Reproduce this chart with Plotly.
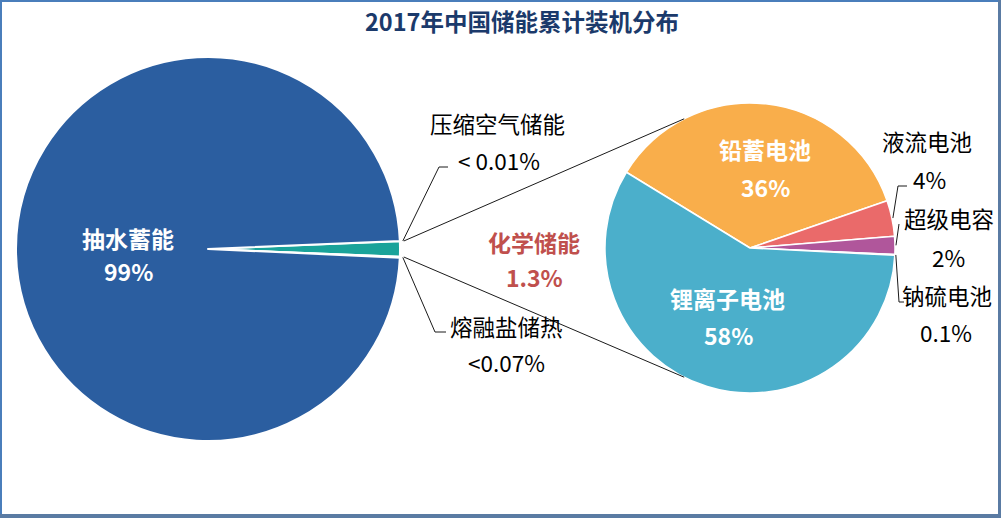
import math
import plotly.graph_objects as go

W, H = 1001, 518

# ---------------- data ----------------
title_text = "2017年中国储能累计装机分布"
main_labels = ["压缩空气储能", "化学储能", "熔融盐储热", "抽水蓄能"]
main_values = [0.01, 1.3, 0.07, 98.62]
main_pct_text = ["< 0.01%", "1.3%", "<0.07%", "99%"]
sub_labels = ["铅蓄电池", "液流电池", "超级电容", "钠硫电池", "锂离子电池"]
sub_values = [36, 4, 2, 0.1, 58]
sub_pct_text = ["36%", "4%", "2%", "0.1%", "58%"]

# ---------------- styles / layout ----------------
FONT = "Noto Sans CJK SC"
main_colors = ["#1AA39A", "#1AA39A", "#1AA39A", "#2B5EA0"]
sub_colors = ["#F9AE4B", "#EA6A6A", "#B0569B", "#8E8E8E", "#4BAFCB"]
LINE_COL = "#1a1a1a"

C1, R1 = (208, 249), 192      # main pie centre / radius (px)
C2, R2 = (750, 248), 145      # sub pie centre / radius (px)
SUB_START = 148.5             # math angle where first sub slice starts
CONNECT_ANGLE = 117           # where connector lines meet the sub pie


def px(x):
    return x / W


def py(y):
    return 1 - y / H


def dom(c, r):
    return dict(x=[px(c[0] - r), px(c[0] + r)], y=[py(c[1] + r), py(c[1] - r)])


def on_circle(c, r, ang):
    a = math.radians(ang)
    return c[0] + r * math.cos(a), c[1] - r * math.sin(a)


# main pie: centre the chemical slice on 3 o'clock
tot1 = sum(main_values)
deg1 = [v / tot1 * 360 for v in main_values]
main_start = deg1[0] + deg1[1] / 2
b1 = [main_start]
for d in deg1:
    b1.append(b1[-1] - d)

tot2 = sum(sub_values)
deg2 = [v / tot2 * 360 for v in sub_values]
b2 = [SUB_START]
for d in deg2:
    b2.append(b2[-1] - d)

fig = go.Figure()
fig.add_trace(go.Pie(
    labels=main_labels, values=main_values, sort=False, direction="clockwise",
    rotation=90 - main_start, textinfo="none", hoverinfo="label+percent",
    marker=dict(colors=main_colors, line=dict(color="white", width=2)),
    domain=dom(C1, R1), showlegend=False,
))
fig.add_trace(go.Pie(
    labels=sub_labels, values=sub_values, sort=False, direction="clockwise",
    rotation=90 - SUB_START, textinfo="none", hoverinfo="label+percent",
    marker=dict(colors=sub_colors, line=dict(color="white", width=1.5)),
    domain=dom(C2, R2), showlegend=False,
))

shapes = []


def seg(p0, p1, color=LINE_COL, width=1):
    shapes.append(dict(type="line", xref="paper", yref="paper",
                       x0=px(p0[0]), y0=py(p0[1]), x1=px(p1[0]), y1=py(p1[1]),
                       line=dict(color=color, width=width)))


def poly(points):
    for a, b in zip(points[:-1], points[1:]):
        seg(a, b)


# connectors between the chemical slice and the sub pie
top_start = on_circle(C1, R1 + 4, b1[1])
bot_start = on_circle(C1, R1 + 4, b1[2])
seg(top_start, on_circle(C2, R2, CONNECT_ANGLE))
seg(bot_start, on_circle(C2, R2, -CONNECT_ANGLE))

# leader lines for tiny slices
mid1 = [(b1[i] + b1[i + 1]) / 2 for i in range(len(main_values))]
mid2 = [(b2[i] + b2[i + 1]) / 2 for i in range(len(sub_values))]
poly([on_circle(C1, R1 + 3, mid1[0]), (439, 167), (448, 167)])
poly([on_circle(C1, R1 + 3, mid1[2]), (435, 332), (446, 332)])
poly([on_circle(C2, R2 + 1, mid2[1]), (898, 186), (907, 186)])
poly([on_circle(C2, R2 + 1, mid2[2]), (899, 224)])
poly([on_circle(C2, R2 + 1, mid2[3]), (899, 302), (904, 302)])

# frame
BORDER = "#4A7EBB"
SHADOW = "#5A7BA3"
seg((0, 1), (W, 1), BORDER, 2)
seg((1, 0), (1, H), BORDER, 2)
seg((999.5, 0), (999.5, H), SHADOW, 3)
seg((0, 516), (W, 516), SHADOW, 4)

annotations = []


def label(text, x, y, color="black", bold=False, size=22.5):
    t = f"<b>{text}</b>" if bold else text
    annotations.append(dict(text=t, x=px(x), y=py(y), xref="paper", yref="paper",
                            xanchor="center", yanchor="middle", showarrow=False,
                            font=dict(family=FONT, size=size, color=color)))


label(title_text, 522, 21, "#1B3A6B", True, 23.5)

BS = 23
# main pie labels
label(main_labels[3], 128, 238, "white", True, BS)
label(main_pct_text[3], 128, 271, "white", True, BS)
label(main_labels[1], 534, 242, "#C0504D", True, BS)
label(main_pct_text[1], 534, 277, "#C0504D", True, BS)
label(main_labels[0], 497, 123)
label(main_pct_text[0], 499, 160)
label(main_labels[2], 506, 326)
label(main_pct_text[2], 506, 362)

# sub pie labels
label(sub_labels[0], 765, 149, "white", True, BS)
label(sub_pct_text[0], 765, 187, "white", True, BS)
label(sub_labels[4], 727, 298, "white", True, BS)
label(sub_pct_text[4], 728, 335, "white", True, BS)
label(sub_labels[1], 927, 141)
label(sub_pct_text[1], 929, 179)
label(sub_labels[2], 949, 218)
label(sub_pct_text[2], 948, 257)
label(sub_labels[3], 947, 295)
label(sub_pct_text[3], 946, 332)

fig.update_layout(
    width=W, height=H, margin=dict(l=0, r=0, t=0, b=0),
    paper_bgcolor="white", plot_bgcolor="white",
    shapes=shapes, annotations=annotations,
)

fig.write_html("out.html")
